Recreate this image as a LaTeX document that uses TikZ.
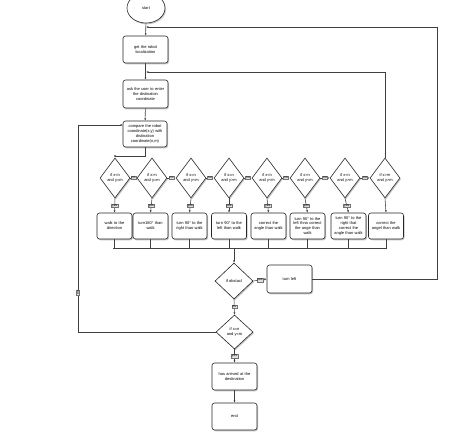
\documentclass[tikz,border=0pt]{standalone}
\usepackage{fontspec}
\setmainfont{Liberation Sans}
\usetikzlibrary{shapes.geometric,shadows,arrows.meta}
\begin{document}
\begin{tikzpicture}[x=1pt,y=-1pt,
  every node/.style={font=\fontsize{4}{4.9}\selectfont, inner sep=0.5pt},
  boxst/.style={draw=black!85, line width=0.6pt, fill=white, rounded corners=2.5pt,
    minimum width=45pt, minimum height=27pt, align=center, text width=42pt,
    drop shadow={shadow xshift=1pt, shadow yshift=-1.3pt, opacity=0.45}},
  actbox/.style={boxst, minimum width=35pt, minimum height=26pt, text width=33pt},
  dia/.style={draw=black!85, line width=0.6pt, fill=white, shape=diamond, aspect=0.75,
    minimum width=30pt, minimum height=40pt, inner sep=0pt, align=center,
    drop shadow={shadow xshift=1pt, shadow yshift=-1.3pt, opacity=0.45}},
  lab/.style={font=\fontsize{3.4}{3.8}\selectfont, fill=black!12, draw=black!55, line width=0.25pt, inner sep=0.6pt},
  ln/.style={draw=black!75, line width=0.55pt},
  arr/.style={ln, -{Latex[length=2.4pt,width=2pt]}}]
\useasboundingbox (0,0) rectangle (474,432);
\fill[white] (0,0) rectangle (474,432);

% top nodes
\node[draw=black!85, line width=0.6pt, fill=white, shape=ellipse, minimum width=38pt, minimum height=30pt,
  drop shadow={shadow xshift=1pt, shadow yshift=-1.3pt, opacity=0.45}] (start) at (146,8) {start};
\node[boxst] (loc) at (145.5,49.5) {get the robot\\localization};
\node[boxst, minimum height=28pt] (ask) at (145.5,94) {ask the user to enter\\the distination\\coordinate};
\node[boxst, minimum width=44pt, minimum height=26pt] (cmp) at (145,134) {compare  the robot\\coordinate(x,y) with\\distination\\coordinate(n,m)};

% decision row
\foreach \i/\x/\t in {1/115/{if x<n\\and y=m}, 2/152/{if x>n\\and y=m}, 3/191/{if x=n\\and y<m}, 4/229/{if x=n\\and y>m},
  5/267/{if x<n\\and y<m}, 6/305/{if x>n\\and y<m}, 7/345/{if x<n\\and y>m}, 8/385/{if x>m\\and y>m}}
  \node[dia] (d\i) at (\x,178) {\t};

% action row
\node[actbox] (b1) at (114.5,226) {walk to the\\direction};
\node[actbox] (b2) at (150.5,226) {turn180° than\\walk};
\node[actbox] (b3) at (189.5,226) {turn 90° to the\\right than walk};
\node[actbox] (b4) at (229,226) {turn 90° to the\\left than walk};
\node[actbox] (b5) at (268.5,226) {correct the\\angle than walk};
\node[actbox] (b6) at (307.5,226) {turn 90° to the\\left thna correct\\the ange than\\walk};
\node[actbox] (b7) at (348.5,226) {turn 90° to the\\right that\\correct the\\angle than walk};
\node[actbox] (b8) at (386,226) {correct the\\angel than walk};

% lower part
\node[dia, minimum width=38pt, minimum height=36pt] (obs) at (234,281) {if obstacl};
\node[boxst, minimum height=28pt] (tl) at (289.5,279) {turn left};
\node[dia, minimum width=37pt, minimum height=34pt] (d9) at (234.5,332) {if  x=n\\and y=m};
\node[boxst] (arr) at (234.5,376.5) {has arrived at the\\destination};
\node[boxst] (end) at (234.5,416.5) {end};

% coordinates
\coordinate (j1) at (146,27);
\coordinate (j2) at (146,72);
\coordinate (rt) at (437,27);
\coordinate (rb) at (437,279);
\coordinate (t8) at (385,72);
\coordinate (c1) at (145,156);
\coordinate (c2) at (115,156);
\coordinate (lb) at (78,332);
\coordinate (lt) at (78,125);
\coordinate (ce) at (123,125);
\coordinate (busL) at (113,248);
\coordinate (busR) at (387,248);
\coordinate (busM) at (234,248);

% main vertical flow
\draw[arr] (start) -- (loc);
\draw[arr] (loc) -- (ask);
\draw[arr] (ask) -- (cmp);
\draw[ln] (cmp.south) -- (c1) -- (c2);
\draw[arr] (c2) -- (d1.north);

% loops back on the right
\draw[ln] (tl.east) -- (rb) -- (rt);
\draw[arr] (rt) -- (j1);
\draw[ln] (d8.north) -- (t8);
\draw[arr] (t8) -- (j2);

% no arrows between decisions
\foreach \a/\b in {1/2,2/3,3/4,4/5,5/6,6/7,7/8}
  \draw[arr] (d\a.east) -- node[lab]{no} (d\b.west);

% yes arrows down
\foreach \i in {1,...,7}
  \draw[arr] (d\i.south) -- node[lab, pos=0.5]{yes} (b\i.north);
\draw[arr] (d8.south) -- (b8.north);

% collection bus
\draw[ln] (busL) -- (busR);
\foreach \i in {1,...,8}
  \draw[ln] (b\i.south) -- (b\i.south |- busL);
\draw[arr] (busM) -- (obs.north);

\draw[arr] (obs.east) -- node[lab]{yes} (tl.west);
\draw[arr] (obs.south) -- node[lab]{no} (d9.north);
\draw[ln] (d9.west) -- (lb) -- node[lab, pos=0.19, rotate=90]{no} (lt);
\draw[arr] (lt) -- (ce);
\draw[arr] (d9.south) -- node[lab]{yes} (arr.north);
\draw[arr] (arr) -- (end);
\end{tikzpicture}
\end{document}
